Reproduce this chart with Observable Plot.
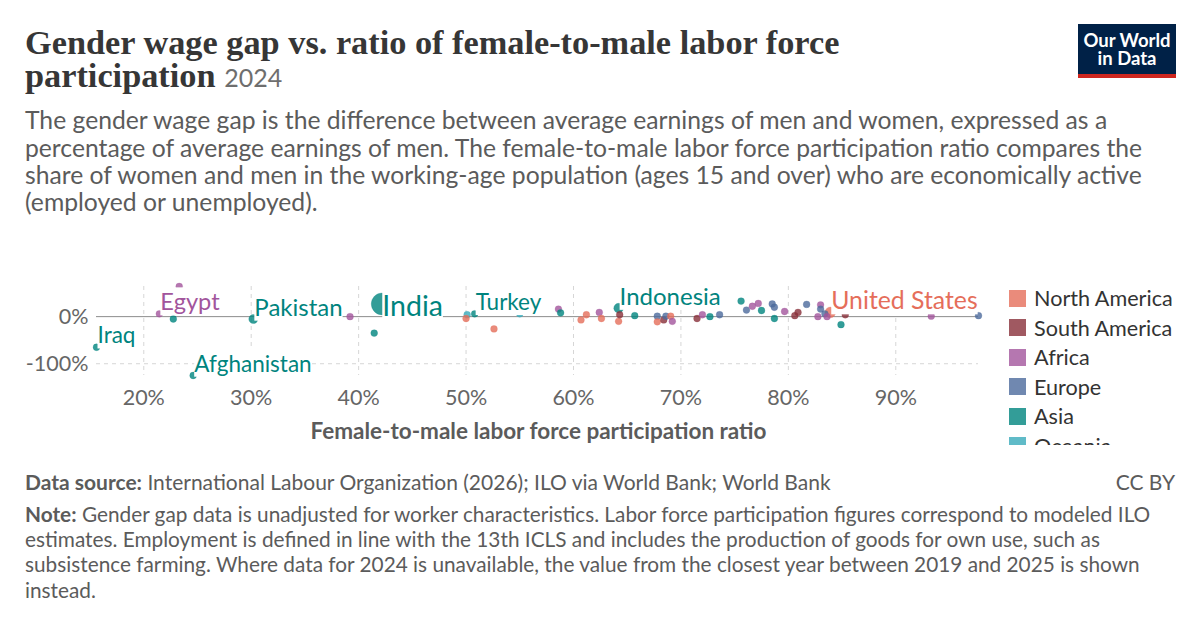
<!DOCTYPE html>
<html><head><meta charset="utf-8">
<script src="https://cdn.jsdelivr.net/npm/d3@7"></script>
<script src="https://cdn.jsdelivr.net/npm/@observablehq/plot@0.6"></script>
<style>
body{margin:0;background:#fff;width:1200px;height:627px;overflow:hidden;position:relative;font-family:Lato,sans-serif;}
#title{position:absolute;left:25px;top:25.5px;font-family:"Liberation Serif",serif;font-weight:bold;font-size:34.3px;line-height:33px;color:#363636;white-space:nowrap;}
#title .yr{font-family:Lato,sans-serif;font-weight:normal;font-size:25px;color:#6e6e6e;}
#sub{position:absolute;left:25px;top:106.3px;font-size:24.7px;line-height:27.3px;color:#5b5b5b;white-space:nowrap;}
#logo{position:absolute;left:1078px;top:24px;width:98px;height:54px;background:#002147;border-bottom:4.5px solid #ce261e;box-sizing:border-box;color:#fff;font-weight:bold;font-size:18.5px;line-height:18px;text-align:center;padding-top:7px;}
#ylab{position:absolute;left:25px;top:241.3px;font-weight:bold;font-size:22px;color:#5b5b5b;white-space:nowrap;}
#chart{position:absolute;left:0;top:240px;}
#xlab{position:absolute;left:0;width:1077px;text-align:center;top:417.3px;font-weight:bold;font-size:22.5px;color:#5b5b5b;white-space:nowrap;}
#legend{position:absolute;left:1009px;top:283.25px;height:161.75px;overflow:hidden;}
.li{display:flex;align-items:center;height:29.5px;font-size:21.6px;color:#333;white-space:nowrap;}
.sw{width:17px;height:17px;margin-right:8px;flex:none;}
#src{position:absolute;left:25px;top:469px;font-size:21px;color:#5b5b5b;white-space:nowrap;}
#cc{position:absolute;right:25px;top:469px;font-size:21px;color:#5b5b5b;}
#note{position:absolute;left:25px;top:500.8px;font-size:20.8px;line-height:25.3px;color:#5b5b5b;white-space:nowrap;}
b{font-weight:bold;}
</style></head>
<body>
<div id="title">Gender wage gap vs. ratio of female-to-male labor force<br>participation <span class="yr">2024</span></div>
<div id="sub">The gender wage gap is the difference between average earnings of men and women, expressed as a<br>percentage of average earnings of men. The female-to-male labor force participation ratio compares the<br>share of women and men in the working-age population (ages 15 and over) who are economically active<br>(employed or unemployed).</div>
<div id="logo">Our World<br>in Data</div>
<div id="ylab">Gender wage gap</div>
<div id="chart"></div>
<div id="xlab">Female-to-male labor force participation ratio</div>
<div id="legend"></div>
<div id="src"><b>Data source:</b> International Labour Organization (2026); ILO via World Bank; World Bank</div>
<div id="cc">CC BY</div>
<div id="note"><b>Note:</b> Gender gap data is unadjusted for worker characteristics. Labor force participation figures correspond to modeled ILO<br>estimates. Employment is defined in line with the 13th ICLS and includes the production of goods for own use, such as<br>subsistence farming. Where data for 2024 is unavailable, the value from the closest year between 2019 and 2025 is shown<br>instead.</div>
<script>
const regions = ["North America","South America","Africa","Europe","Asia","Oceania"];
const regionColors = ["#e56e5a","#883039","#a2559c","#4c6a9c","#00847e","#38aaba"];
const xTicks = [20,30,40,50,60,70,80,90];
const yTicks = [0,-100];

// female-to-male labor force participation ratio (%)
const ratio = [15.6,21.45,23.3,22.75,24.6,30.2,39.2,41.45,42.2,50.1,50.0,50.8,52.6,55.0,58.6,58.8,60.7,61.2,62.4,62.6,64.2,64.3,64.2,65.7,67.8,67.8,68.4,68.6,69.05,69.2,71.5,72.1,72.0,72.7,73.6,75.6,76.1,76.65,77.2,77.5,78.5,78.7,78.7,79.65,80.6,80.9,81.7,83.0,83.0,82.75,83.4,83.6,83.9,84.9,85.3,88.7,93.3,97.7];
// gender wage gap (%)
const gap = [-65,6,64,-5,-125,-5,0,-35,27,4,-4,6,-26,6,16,8,-7,4,9,-4,-10,4,18,2,1,-11,-7,1,1,-10,-4,47,4,0,4,33,14,22,28,13,27,20,-4,11,2,9,26,25,16,0,6,0,9,-17,4,50,1,2];
const region = ["Asia","Africa","Africa","Asia","Asia","Asia","Africa","Asia","Asia","Oceania","North America","Asia","North America","Oceania","Africa","Asia","North America","North America","Africa","North America","North America","South America","Asia","Asia","Europe","North America","South America","Europe","North America","Africa","South America","Africa","Africa","Asia","Europe","Asia","Europe","Africa","Africa","Asia","Europe","Europe","Asia","Africa","South America","South America","Europe","Africa","Europe","Africa","Europe","Africa","North America","Asia","South America","Africa","Africa","Europe"];
// population (millions, estimated)
const population = [46,115,20,20,42,250,20,20,1450,10,10,87,10,10,20,20,10,130,20,10,10,20,280,5,10,10,20,10,10,20,20,20,20,20,10,20,10,20,20,20,10,10,20,20,20,20,10,20,10,20,10,20,340,20,5,20,20,10];
const names = ["Iraq","Egypt","","","Afghanistan","Pakistan","","","India","","","Turkey","","","","","","","","","","","Indonesia","","","","","","","","","","","","","","","","","","","","","","","","","","","","","","United States","","","","",""];

const data = ratio.map((x,i)=>({x, y:gap[i], region:region[i], pop:population[i], name:names[i]}));
const labeled = data.filter(d=>d.name && d.name!=="India");
const india = data.filter(d=>d.name==="India");
const labelSize = d => d.pop > 300 ? 24.8 : d.pop > 200 ? 24 : d.pop > 100 ? 23.6 : 22.5;

const chart = Plot.plot({
  width: 1000, height: 210,
  marginLeft: 96, marginRight: 22, marginTop: 46, marginBottom: 75,
  x: {domain:[15.6, 97.7]},
  y: {domain:[-125, 64]},
  r: {type:"sqrt", domain:[0,1450], range:[0,11]},
  color: {domain: regions, range: regionColors},
  style: {fontFamily:"Lato, sans-serif", fontSize:"21.5px", color:"#666", background:"white", overflow:"visible"},
  marks: [
    Plot.gridX(xTicks, {stroke:"#d6d6d6", strokeOpacity:1, strokeDasharray:"4,4"}),
    Plot.gridY([-100], {stroke:"#d6d6d6", strokeOpacity:1, strokeDasharray:"4,4"}),
    Plot.ruleY([0], {stroke:"#8c8c8c", strokeWidth:1}),
    Plot.axisX({ticks:xTicks, tickFormat:d=>d+"%", tickSize:0, tickPadding:14.5, label:null}),
    Plot.axisY({ticks:yTicks, tickFormat:d=>d+"%", tickSize:0, tickPadding:8, label:null}),
    Plot.dot(data, {x:"x", y:"y", r:d=>Math.max(d.pop,140), fill:"region", fillOpacity:0.8, stroke:"region", strokeOpacity:0.5, strokeWidth:0.5}),
    Plot.text(labeled, {x:"x", y:"y", text:"name", fill:"region", textAnchor:"start", lineAnchor:"middle", dx:1, dy:-11, fontSize:labelSize}),
    Plot.text(india, {x:"x", y:"y", text:"name", fill:"region", textAnchor:"start", lineAnchor:"middle", dx:0, dy:2.6, fontSize:28.5})
  ]
});
document.getElementById("chart").append(chart);

const legend = document.getElementById("legend");
regions.forEach((r,i)=>{
  const row = document.createElement("div"); row.className="li";
  const sw = document.createElement("div"); sw.className="sw"; sw.style.background=regionColors[i]; sw.style.opacity=0.8;
  const t = document.createElement("span"); t.textContent=r;
  row.append(sw,t); legend.append(row);
});

function addBacks(){
  const ns="http://www.w3.org/2000/svg";
  chart.querySelectorAll('g[aria-label="text"] text').forEach(t=>{
    const b=t.getBBox();
    const rc=document.createElementNS(ns,"rect");
    rc.setAttribute("x",b.x); rc.setAttribute("y",b.y);
    rc.setAttribute("width",b.width); rc.setAttribute("height",b.height);
    rc.setAttribute("fill","white");
    if(t.getAttribute("transform")) rc.setAttribute("transform",t.getAttribute("transform"));
    t.parentNode.insertBefore(rc,t);
  });
}
addBacks();
</script>
</body></html>
